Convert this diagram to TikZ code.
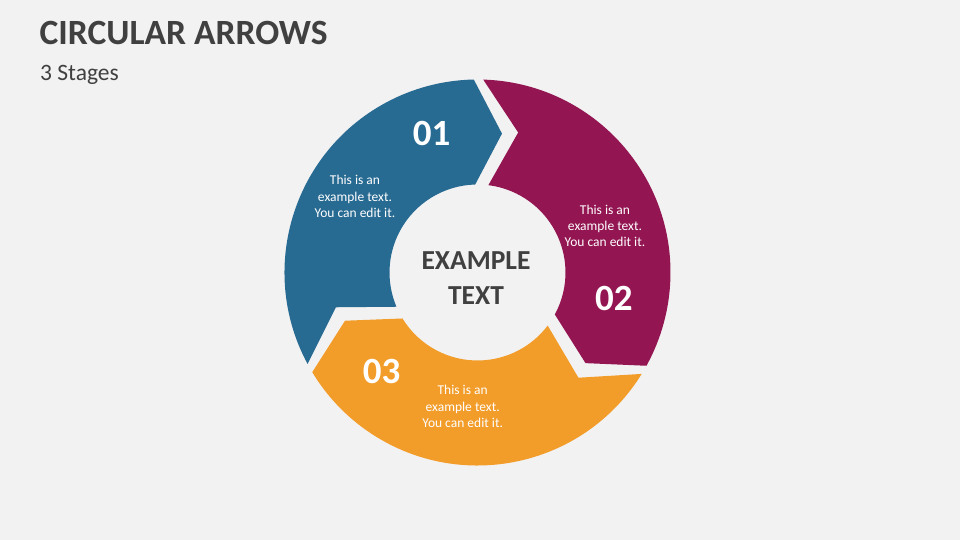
\documentclass[tikz,border=0pt]{standalone}
\usepackage{fontspec}
\setmainfont{Carlito}
\definecolor{bgc}{HTML}{F2F2F2}
\definecolor{cblue}{HTML}{276A92}
\definecolor{cmag}{HTML}{931552}
\definecolor{corange}{HTML}{F29C2A}
\definecolor{ctext}{HTML}{404040}
\tikzset{
  numlabel/.style={text=white, font=\fontsize{37}{44}\selectfont\bfseries, inner sep=0pt},
  bodytext/.style={text=white, font=\fontsize{13.5}{16.3}\selectfont, align=center, inner sep=0pt},
}
\begin{document}
\begin{tikzpicture}[x=1pt,y=1pt]
\fill[bgc] (0,0) rectangle (960,540);
\useasboundingbox (0,0) rectangle (960,540);
\coordinate (C) at (477.5,267.5);
\foreach \col/\rot in {cblue/0, cmag/-120, corange/120}{
  \begin{scope}[shift={(C)}, rotate=\rot]
    \fill[\col] (208.3:193) arc[start angle=208.3, end angle=91.1, radius=193]
      -- (80:141) -- (91.5:88) arc[start angle=91.5, end angle=202.9, radius=88]
      -- (193.8:145.8) -- cycle;
  \end{scope}
}
\node[anchor=base west, inner sep=0pt, text=ctext, font=\fontsize{35.5}{40}\selectfont\bfseries] (title) at (39.5,495.3) {CIRCULAR ARROWS};
\node[anchor=base west, inner sep=0pt, text=ctext, font=\fontsize{23.5}{28}\selectfont] (subtitle) at (40,459.3) {3 Stages};
\node[text=ctext, font=\fontsize{27.5}{34.7}\selectfont\bfseries, align=center, inner sep=0pt] (center) at (476,261.7) {EXAMPLE\\TEXT};
\node[numlabel] (n1) at (431.5,406) {01};
\node[numlabel] (n2) at (613.8,241.7) {02};
\node[numlabel] (n3) at (381.7,168.3) {03};
\node[bodytext] (t1) at (355,343.5) {This is an\\example text.\\You can edit it.};
\node[bodytext] (t2) at (605,314.2) {This is an\\example text.\\You can edit it.};
\node[bodytext] (t3) at (462.7,133.5) {This is an\\example text.\\You can edit it.};
\end{tikzpicture}
\end{document}
